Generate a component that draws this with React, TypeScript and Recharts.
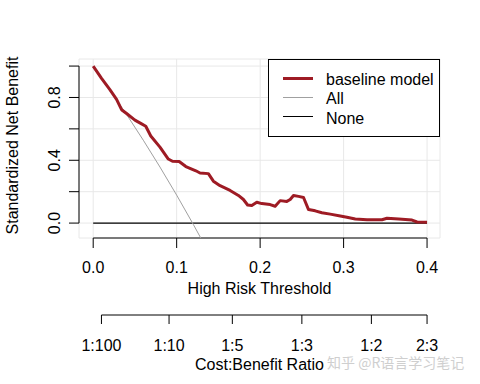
import React from "react";
import {
  LineChart,
  Line,
  XAxis,
  YAxis,
  CartesianGrid,
  ReferenceLine,
  Legend,
} from "recharts";

// decision curve
const modelThreshold = [
  0, 0.01, 0.02, 0.028, 0.034, 0.04, 0.05, 0.058, 0.063, 0.069, 0.08, 0.09,
  0.095, 0.103, 0.111, 0.123, 0.128, 0.138, 0.144, 0.152, 0.164, 0.174, 0.18,
  0.185, 0.19, 0.196, 0.202, 0.212, 0.218, 0.224, 0.232, 0.236, 0.24, 0.246,
  0.252, 0.258, 0.266, 0.274, 0.284, 0.296, 0.304, 0.314, 0.328, 0.346, 0.352,
  0.366, 0.382, 0.388, 0.4,
];
const modelBenefit = [
  1.0, 0.922, 0.85, 0.788, 0.722, 0.698, 0.656, 0.632, 0.617, 0.555, 0.484,
  0.408, 0.394, 0.392, 0.36, 0.333, 0.319, 0.315, 0.267, 0.238, 0.208, 0.176,
  0.15, 0.115, 0.112, 0.133, 0.124, 0.118, 0.107, 0.143, 0.138, 0.15, 0.176,
  0.17, 0.163, 0.086, 0.078, 0.066, 0.057, 0.045, 0.037, 0.026, 0.021, 0.021,
  0.031, 0.026, 0.019, 0.007, 0.005,
];
const allThreshold = [0, 0.02, 0.04, 0.06, 0.08, 0.1, 0.12, 0.13];
const allBenefit = [1.0, 0.849, 0.692, 0.528, 0.357, 0.178, -0.009, -0.106];
const noneThreshold = [0, 0.4];
const noneBenefit = [0, 0];

const riskTicks = [0, 0.1, 0.2, 0.3, 0.4];
const benefitTicks = [0, 0.2, 0.4, 0.6, 0.8, 1.0];
const benefitLabelled = [0, 0.4, 0.8];
const ratioTicks = [0.0099, 0.0909, 0.1667, 0.25, 0.3333, 0.4];
const ratioLabels = ["1:100", "1:10", "1:5", "1:3", "1:2", "2:3"];

const seriesNames = ["baseline model", "All", "None"];
const seriesColors = ["#9e1b24", "#a0a0a0", "#000000"];
const seriesWidths = [3, 1, 1.3];

const W = 480;
const H = 384;
const M = { top: 59, right: 40, bottom: 9, left: 0 };
const Y_AXIS_W = 79;
const X_MIN = -0.017;
const X_MAX = 0.4155;
const Y_MIN = -0.095;
const Y_MAX = 1.045;
const PX_PER_UNIT = (W - M.left - M.right - Y_AXIS_W) / (X_MAX - X_MIN);
const FONT = "'Liberation Sans', Arial, sans-serif";

// axis ids: Recharts stacks bottom axes by id, lowest next to the plot
const RISK_AXIS = 0;
const RATIO_AXIS = 1;

const toRows = (xs: number[], ys: number[]) =>
  xs.map((t, i) => ({ t, nb: ys[i] }));
const modelData = toRows(modelThreshold, modelBenefit);
const allData = toRows(allThreshold, allBenefit);
const noneData = toRows(noneThreshold, noneBenefit);

const RiskTick = (props: any) => {
  const { x, y, payload } = props;
  return (
    <text x={x} y={y} dy={24.5} textAnchor="middle" fontSize={16} fontFamily={FONT} fill="#000">
      {payload.value.toFixed(1)}
    </text>
  );
};

const RatioTick = (props: any) => {
  const { x, y, payload } = props;
  const i = ratioTicks.indexOf(payload.value);
  const axisY = y - 9;
  return (
    <g>
      {i === 0 && (
        <line
          x1={x}
          x2={x + (ratioTicks[ratioTicks.length - 1] - ratioTicks[0]) * PX_PER_UNIT}
          y1={axisY}
          y2={axisY}
          stroke="#000"
        />
      )}
      <text x={x} y={y} dy={26.5} textAnchor="middle" fontSize={16} fontFamily={FONT} fill="#000">
        {ratioLabels[i]}
      </text>
    </g>
  );
};

const BenefitTick = (props: any) => {
  const { y, payload } = props;
  const v = payload.value;
  if (!benefitLabelled.some((b) => Math.abs(b - v) < 1e-9)) return <g />;
  const bx = 60;
  return (
    <text
      x={bx}
      y={y}
      transform={`rotate(-90 ${bx} ${y})`}
      textAnchor="middle"
      fontSize={16}
      fontFamily={FONT}
      fill="#000"
    >
      {v.toFixed(1)}
    </text>
  );
};

const LegendBox = () => (
  <svg width={172} height={78} style={{ display: "block" }}>
    <rect x={0.5} y={0.5} width={171} height={77} fill="#fff" stroke="#000" />
    {seriesNames.map((name, i) => (
      <g key={name}>
        <line
          x1={15}
          x2={45}
          y1={19.5 + i * 19}
          y2={19.5 + i * 19}
          stroke={seriesColors[i]}
          strokeWidth={i === 2 ? 1 : seriesWidths[i]}
        />
        <text x={58} y={25.5 + i * 19.5} fontSize={16} fontFamily={FONT} fill="#000">
          {name}
        </text>
      </g>
    ))}
  </svg>
);

export default function App() {
  return (
    <div style={{ position: "absolute", left: 0, top: 0, width: W, height: H, background: "#fff" }}>
      <LineChart width={W} height={H} margin={M}>
        <CartesianGrid xAxisId={RISK_AXIS} yAxisId="nb" stroke="#e8e8e8" />
        <XAxis
          xAxisId={RISK_AXIS}
          type="number"
          dataKey="t"
          domain={[X_MIN, X_MAX]}
          allowDataOverflow
          ticks={riskTicks}
          interval={0}
          height={77}
          axisLine={false}
          tickLine={{ stroke: "#000" }}
          tickSize={10}
          tickMargin={0}
          tick={RiskTick}
          label={{
            value: "High Risk Threshold",
            position: "insideBottom",
            offset: 21,
            fill: "#000",
            fontSize: 16,
            fontFamily: FONT,
          }}
        />
        <XAxis
          xAxisId={RATIO_AXIS}
          type="number"
          dataKey="t"
          domain={[X_MIN, X_MAX]}
          allowDataOverflow
          ticks={ratioTicks}
          interval={0}
          height={60}
          axisLine={false}
          tickLine={{ stroke: "#000" }}
          tickSize={9}
          tickMargin={0}
          tick={RatioTick}
          label={{
            value: "Cost:Benefit Ratio",
            position: "insideBottom",
            offset: 5.5,
            fill: "#000",
            fontSize: 16,
            fontFamily: FONT,
          }}
        />
        <YAxis
          yAxisId="nb"
          type="number"
          domain={[Y_MIN, Y_MAX]}
          allowDataOverflow
          ticks={benefitTicks}
          interval={0}
          width={Y_AXIS_W}
          axisLine={false}
          tickLine={{ stroke: "#000" }}
          tickSize={10}
          tick={BenefitTick}
          label={{
            value: "Standardized Net Benefit",
            angle: -90,
            position: "insideLeft",
            offset: 12,
            dy: -3,
            fill: "#000",
            fontSize: 16,
            fontFamily: FONT,
            style: { textAnchor: "middle" },
          }}
        />
        <ReferenceLine
          xAxisId={RISK_AXIS}
          yAxisId="nb"
          segment={[{ x: riskTicks[0], y: Y_MIN }, { x: riskTicks[riskTicks.length - 1], y: Y_MIN }]}
          stroke="#000"
          ifOverflow="visible"
        />
        <ReferenceLine
          xAxisId={RISK_AXIS}
          yAxisId="nb"
          segment={[{ x: X_MIN, y: benefitTicks[0] }, { x: X_MIN, y: benefitTicks[benefitTicks.length - 1] }]}
          stroke="#000"
          ifOverflow="visible"
        />
        <Line
          xAxisId={RISK_AXIS}
          yAxisId="nb"
          data={noneData}
          dataKey="nb"
          name={seriesNames[2]}
          stroke={seriesColors[2]}
          strokeWidth={seriesWidths[2]}
          dot={false}
          isAnimationActive={false}
        />
        <Line
          xAxisId={RISK_AXIS}
          yAxisId="nb"
          data={allData}
          dataKey="nb"
          name={seriesNames[1]}
          stroke={seriesColors[1]}
          strokeWidth={seriesWidths[1]}
          dot={false}
          isAnimationActive={false}
        />
        <Line
          xAxisId={RISK_AXIS}
          yAxisId="nb"
          data={modelData}
          dataKey="nb"
          name={seriesNames[0]}
          stroke={seriesColors[0]}
          strokeWidth={seriesWidths[0]}
          strokeLinejoin="round"
          dot={false}
          isAnimationActive={false}
        />
        <Legend
          layout="horizontal"
          verticalAlign="middle"
          align="center"
          content={LegendBox}
          wrapperStyle={{ position: "absolute", left: 268, top: 59, width: 172, height: 78 }}
        />
      </LineChart>
      <div
        style={{
          position: "absolute",
          left: 327,
          top: 355,
          fontSize: 14,
          lineHeight: "15px",
          fontFamily: "'Noto Sans CJK SC', sans-serif",
          color: "#cfcfcf",
          whiteSpace: "nowrap",
        }}
      >
        知乎 @R语言学习笔记
      </div>
    </div>
  );
}
